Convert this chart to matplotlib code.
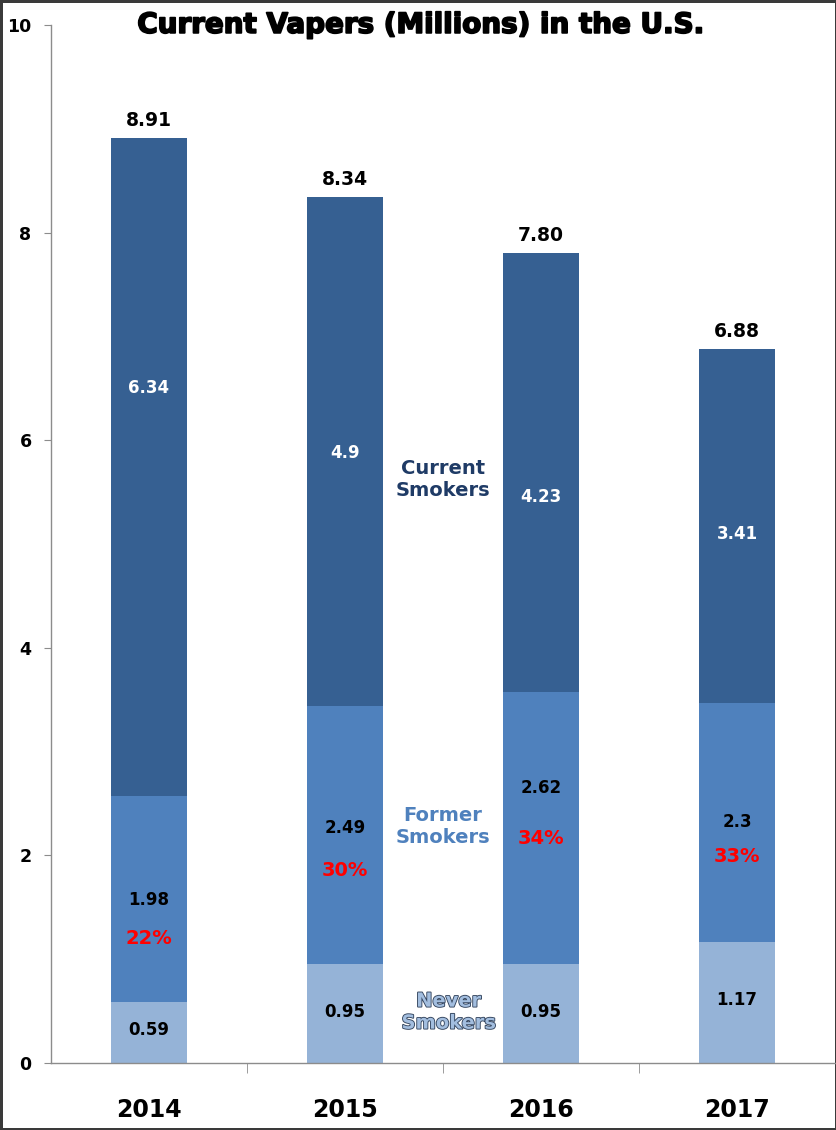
import numpy as np
import matplotlib.pyplot as plt
import matplotlib.patheffects as pe

years = ['2014', '2015', '2016', '2017']
never = [0.59, 0.95, 0.95, 1.17]
former = [1.98, 2.49, 2.62, 2.3]
current = [6.34, 4.9, 4.23, 3.41]
totals = ['8.91', '8.34', '7.80', '6.88']
former_pct = ['22%', '30%', '34%', '33%']

# label heights (layout only)
current_lab_y = [6.50, 5.88, 5.45, 5.10]
former_lab_y = [1.57, 2.26, 2.65, 2.32]
pct_lab_y = [1.20, 1.85, 2.16, 1.99]

c_cur = '#366092'
c_for = '#4F81BD'
c_nev = '#95B3D7'
spine = '#8C8C8C'

plt.rcParams['font.family'] = 'DejaVu Sans'
plt.rcParams['font.weight'] = 'bold'

fig = plt.figure(figsize=(8.37, 11.3), dpi=100, linewidth=2.5, edgecolor='#3A3A3A')
ax = fig.add_axes([51 / 837, 1 - 1063 / 1130, 784 / 837, 1038 / 1130])

x = np.arange(len(years))
never = np.array(never)
former = np.array(former)
current = np.array(current)
w = 0.39
ax.bar(x, never, w, color=c_nev)
ax.bar(x, former, w, bottom=never, color=c_for)
ax.bar(x, current, w, bottom=never + former, color=c_cur)

top = never + former + current
for i in range(len(years)):
    ax.text(x[i], top[i] + 0.08, totals[i], ha='center', va='bottom', fontsize=13.5, fontweight='bold', color='black')
    ax.text(x[i], current_lab_y[i], f'{current[i]:g}', ha='center', va='center', fontsize=12, fontweight='bold', color='white')
    ax.text(x[i], former_lab_y[i], f'{former[i]:g}', ha='center', va='center', fontsize=12, fontweight='bold', color='black')
    ax.text(x[i], pct_lab_y[i], former_pct[i], ha='center', va='center', fontsize=14, fontweight='bold', color='#FF0000')
    ax.text(x[i], never[i] / 2 + 0.02, f'{never[i]:.2f}', ha='center', va='center', fontsize=12, fontweight='bold', color='black')

ax.text(1.5, 5.62, 'Current\nSmokers', ha='center', va='center', fontsize=14, fontweight='bold',
        color='#1F3B66', linespacing=1.2)
ax.text(1.5, 2.28, 'Former\nSmokers', ha='center', va='center', fontsize=14, fontweight='bold',
        color=c_for, linespacing=1.2)
ax.text(1.53, 0.49, 'Never\nSmokers', ha='center', va='center', fontsize=14, fontweight='bold',
        color='#A3BEDF', linespacing=1.2,
        path_effects=[pe.withStroke(linewidth=1.3, foreground='#34455E')])

ax.set_xlim(-0.5, 3.5)
ax.set_ylim(0, 10)
ax.set_yticks([0, 2, 4, 6, 8, 10])
ax.set_yticklabels(['0', '2', '4', '6', '8', '10'], fontsize=12.5, fontweight='bold')
ax.set_xticks(x)
ax.set_xticklabels(years, fontsize=17, fontweight='bold')
ax.set_xticks([0.5, 1.5, 2.5], minor=True)
ax.tick_params(axis='x', which='major', length=0, pad=25)
ax.tick_params(axis='x', which='minor', length=7, color=spine, direction='out')
ax.tick_params(axis='y', length=5, color=spine, pad=9)

for s in ['top', 'right']:
    ax.spines[s].set_visible(False)
for s in ['left', 'bottom']:
    ax.spines[s].set_color(spine)
    ax.spines[s].set_linewidth(1)

fig.text(0.503, 0.978, 'Current Vapers (Millions) in the U.S.', ha='center', va='center',
         fontsize=20, fontweight='bold', color='black',
         path_effects=[pe.withStroke(linewidth=1.3, foreground='black')])

fig.savefig('out.png', dpi=100, edgecolor=fig.get_edgecolor())
